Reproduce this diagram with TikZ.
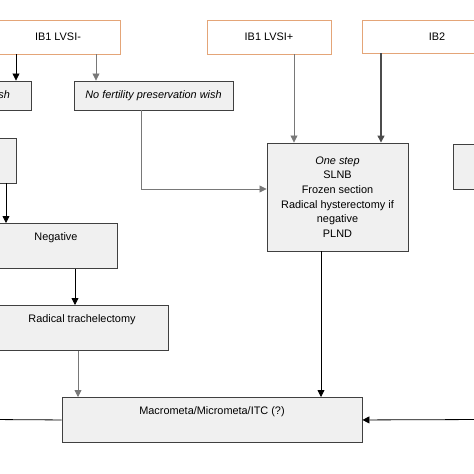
\documentclass[tikz,border=0pt]{standalone}
\usepackage{fontspec}
\setmainfont{Liberation Sans}
\usetikzlibrary{arrows.meta}

\definecolor{edgeorange}{RGB}{228,165,120}
\definecolor{boxgray}{RGB}{240,240,240}
\definecolor{linegray}{RGB}{120,120,120}
\newcommand{\boxfont}{\fontsize{10.9}{14.6}\selectfont}

\tikzset{
    stagebox/.style={draw=edgeorange,fill=white,line width=0.9pt,minimum height=34pt,inner sep=0pt},
    stepbox/.style={draw=black!75,fill=boxgray,line width=0.9pt,inner sep=0pt},
    toptext/.style={stepbox,text height=17.5pt,text depth=27.5pt,anchor=north},
    arr/.style={-{Triangle[length=7pt,width=7pt]},line width=0.8pt},
}

\begin{document}
\begin{tikzpicture}[x=1pt,y=-1pt,font=\boxfont]

                \clip (0,0) rectangle (474,474);

                % stages
                \node[stagebox,minimum width=124pt] (lvsineg) at (58,37) {IB1 LVSI-};
                \node[stagebox,minimum width=124pt] (lvsipos) at (269,37) {IB1 LVSI+};
                \node[stagebox,minimum width=150pt,minimum height=33pt] (ibtwo) at (437,36.5) {IB2};

                % steps
                \node[stepbox,minimum width=165pt,minimum height=29pt,font=\boxfont\itshape] (wish) at (-51.5,95.5) {Fertility preservation wish};
                \node[stepbox,minimum width=159pt,minimum height=29pt,font=\boxfont\itshape] (nofert) at (153.5,95.5) {No fertility preservation wish};
                \node[stepbox,minimum width=56pt,minimum height=45pt] (leftbox) at (-12,160.5) {};
                \node[stepbox,minimum width=141pt,minimum height=108pt,align=center] (onestep) at (337.5,197)
                    {\textit{One step}\\SLNB\\Frozen section\\Radical hysterectomy if\\negative\\PLND};
                \node[stepbox,minimum width=74pt,minimum height=45pt] (rightbox) at (490,166.5) {};
                \node[toptext,minimum width=122pt] (negative) at (56,223) {Negative};
                \node[toptext,minimum width=172pt] (radtrach) at (82,305) {Radical trachelectomy};
                \node[toptext,minimum width=300pt] (macro) at (212,397) {Macrometa/Micrometa/ITC (?)};

                \coordinate (leftin) at (-10,419.5);
                \coordinate (rightin) at (484,419.5);

                % connectors
                \draw[arr] (lvsineg.south-|16,0) -- (wish.north-|16,0);
                \draw[arr,draw=linegray] (lvsineg.south-|96,0) -- (nofert.north-|96,0);
                \draw[arr,draw=linegray] (nofert.south-|141,0) |- (onestep.west|-0,189);
                \draw[arr,draw=linegray] (lvsipos.south-|294,0) -- (onestep.north-|294,0);
                \draw[arr,line width=1.3pt,draw=black!70] (ibtwo.south-|381,0) -- (onestep.north-|381,0);
                \draw[arr] (leftbox.south-|6,0) -- (negative.north-|6,0);
                \draw[arr] (negative.south-|75,0) -- (radtrach.north-|75,0);
                \draw[arr,draw=linegray] (radtrach.south-|78,0) -- (macro.north-|78,0);
                \draw[arr] (onestep.south-|321,0) -- (macro.north-|321,0);
                \draw[line width=0.8pt] (leftin) -- (macro.west);
                \draw[arr] (rightin) -- (macro.east);

\end{tikzpicture}
\end{document}
